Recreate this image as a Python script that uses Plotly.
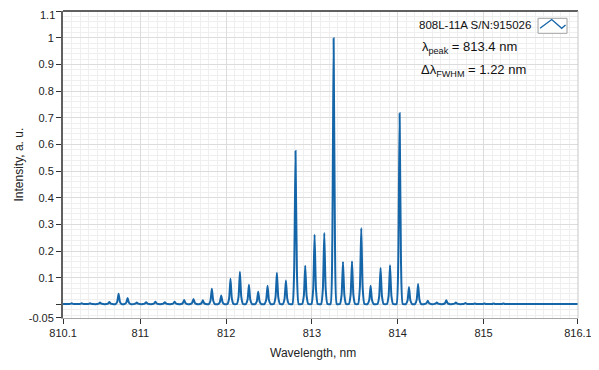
import plotly.graph_objects as go

# ---- data ----
peak_wavelength = [
    810.201, 810.318, 810.415, 810.531, 810.640, 810.747, 810.852, 810.959,
    811.068, 811.176, 811.286, 811.400, 811.511, 811.620, 811.729, 811.834,
    811.943, 812.051, 812.161, 812.266, 812.374, 812.483, 812.592, 812.697,
    812.809, 812.922, 813.031, 813.144, 813.253, 813.362, 813.467, 813.575,
    813.684, 813.800, 813.910, 814.022, 814.131, 814.237, 814.350, 814.455,
    814.566, 814.677, 814.788, 814.899, 815.010, 815.118, 815.231,
]
peak_intensity = [
    0.005, 0.005, 0.005, 0.008, 0.010, 0.041, 0.025, 0.008,
    0.009, 0.011, 0.009, 0.011, 0.017, 0.021, 0.016, 0.059,
    0.034, 0.097, 0.123, 0.074, 0.048, 0.071, 0.119, 0.090,
    0.576, 0.146, 0.262, 0.268, 0.998, 0.160, 0.162, 0.287,
    0.071, 0.137, 0.147, 0.717, 0.066, 0.077, 0.014, 0.008,
    0.016, 0.008, 0.006, 0.004, 0.004, 0.004, 0.004,
]
baseline_level = 0.002
wl_start, wl_end = 810.1, 816.1

x_tick_vals = [810.1, 811, 812, 813, 814, 815, 816.1]
x_tick_text = ["810.1", "811", "812", "813", "814", "815", "816.1"]
y_tick_vals = [-0.05, 0, 0.1, 0.2, 0.3, 0.4, 0.5, 0.6, 0.7, 0.8, 0.9, 1.0, 1.1]
y_tick_text = ["-0.05", "", "0.1", "0.2", "0.3", "0.4", "0.5", "0.6", "0.7",
               "0.8", "0.9", "1", ""]
y_top_label = "1.1"

legend_name = "808L-11A S/N:915026"
peak_text = "λ<sub>peak</sub> = 813.4 nm"
fwhm_text = "Δλ<sub>FWHM</sub> = 1.22 nm"

# ---- build polyline (peak vertices with baseline feet) ----
half_w = 0.036
skirt_frac = 0.22
skirt_off = 0.016
xs = [wl_start]
ys = [baseline_level]
for wl, h in zip(peak_wavelength, peak_intensity):
    xs += [wl - half_w, wl - skirt_off, wl, wl + skirt_off, wl + half_w]
    sk = baseline_level + skirt_frac * (h - baseline_level)
    ys += [baseline_level, sk, h, sk, baseline_level]
xs.append(wl_end)
ys.append(baseline_level)

line_color = "#1565a9"
font_family = "Liberation Sans, Arial, sans-serif"

fig = go.Figure()
fig.add_trace(go.Scatter(
    x=xs, y=ys, mode="lines", name=legend_name,
    line=dict(color=line_color, width=2, shape="spline", smoothing=0.4),
    showlegend=False, hoverinfo="x+y",
))

# page offset of the figure inside the html body (default 8px body margin)
OFF = 8
L, R, T, B = 62.5 - OFF, 578 - OFF, 11 - OFF, 318 - OFF
W, H = 599 - OFF, 370 - OFF


def px(xp):
    return (xp - OFF - L) / (R - L)


def py(yp):
    return (B - (yp - OFF)) / (B - T)


fig.update_layout(
    width=W, height=H,
    margin=dict(l=L, r=W - R, t=T, b=H - B, pad=0),
    paper_bgcolor="white", plot_bgcolor="white",
    font=dict(family=font_family, size=11, color="#222"),
    xaxis=dict(
        range=[wl_start - 0.0005, wl_end + 0.0005], tickmode="array",
        tickvals=x_tick_vals, ticktext=x_tick_text, automargin=False,
        ticklabeloverflow="allow",
        showgrid=True, gridcolor="#dcdcdc", gridwidth=1,
        minor=dict(tickmode="linear", tick0=810, dtick=0.1, showgrid=True,
                   gridcolor="#efefef", gridwidth=1, ticks=""),
        ticks="outside", ticklen=5, tickcolor="#333", tickwidth=1,
        showline=True, linecolor="#a8a8a8", linewidth=1,
        zeroline=False, tickfont=dict(size=11),
    ),
    yaxis=dict(
        range=[-0.0502, 1.1002], tickmode="array",
        tickvals=y_tick_vals, ticktext=y_tick_text, automargin=False,
        ticklabeloverflow="allow",
        showgrid=True, gridcolor="#dcdcdc", gridwidth=1,
        minor=dict(tickmode="linear", tick0=0, dtick=0.02, showgrid=True,
                   gridcolor="#efefef", gridwidth=1, ticks=""),
        ticks="outside", ticklen=5, tickcolor="#333", tickwidth=1,
        showline=True, linecolor="#606060", linewidth=2,
        zeroline=False, tickfont=dict(size=11),
    ),
    showlegend=False,
)

fig.add_shape(type="line", xref="paper", yref="paper", x0=0, x1=1, y0=1, y1=1,
              line=dict(color="#606060", width=2))
fig.add_shape(type="line", xref="paper", yref="paper", x0=1, x1=1, y0=0, y1=1,
              line=dict(color="#c8c8c8", width=1))

# top y label, nudged to stay inside the figure
fig.add_annotation(text=y_top_label, xref="paper", yref="paper", x=px(55.5), y=py(14.5),
                   xanchor="right", yanchor="middle", showarrow=False,
                   font=dict(size=11, color="#222"), borderpad=0)

# legend icon box
fig.add_shape(type="rect", xref="paper", yref="paper",
              x0=px(538), x1=px(567), y0=py(33.3), y1=py(18.3),
              line=dict(color="#a0a0a0", width=1), fillcolor="white")
fig.add_shape(type="path", xref="paper", yref="paper",
              path="M {:.4f},{:.4f} L {:.4f},{:.4f} L {:.4f},{:.4f} L {:.4f},{:.4f}".format(
                  px(540), py(28.3), px(551.7), py(19.5), px(561.7), py(28.3), px(565.5), py(25)),
              line=dict(color=line_color, width=1.3))

fig.add_annotation(text=legend_name, xref="paper", yref="paper", x=px(417), y=py(25),
                   xanchor="left", yanchor="middle", showarrow=False,
                   font=dict(size=11.5, color="#111"))
fig.add_annotation(text=peak_text, xref="paper", yref="paper", x=px(420), y=py(47),
                   xanchor="left", yanchor="middle", showarrow=False,
                   font=dict(size=13, color="#111"))
fig.add_annotation(text=fwhm_text, xref="paper", yref="paper", x=px(419), y=py(71),
                   xanchor="left", yanchor="middle", showarrow=False,
                   font=dict(size=13, color="#111"))

fig.add_annotation(text="Wavelength, nm", xref="paper", yref="paper", x=px(313), y=py(353),
                   xanchor="center", yanchor="middle", showarrow=False,
                   font=dict(size=12, color="#222"))
fig.add_annotation(text="Intensity, a. u.", xref="paper", yref="paper", x=px(18), y=py(165),
                   xanchor="center", yanchor="middle", showarrow=False, textangle=-90,
                   font=dict(size=12, color="#222"))

fig.write_html("out.html")
